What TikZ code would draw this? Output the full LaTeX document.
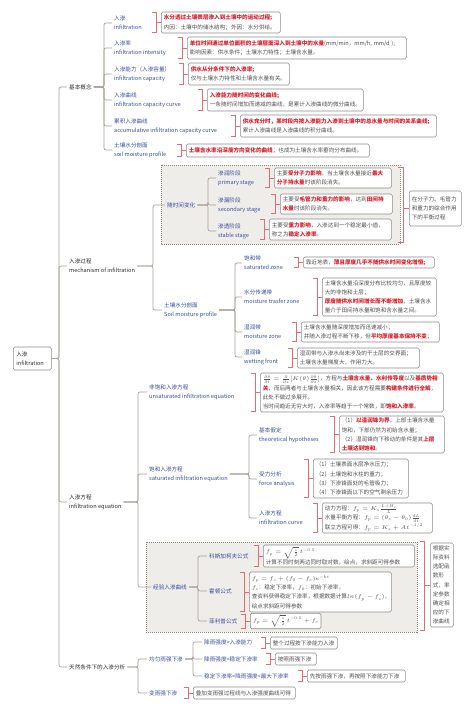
\RequirePackage{fix-cm}
\documentclass[tikz,border=0pt]{standalone}
\usepackage[no-math]{fontspec}
\setmainfont{Noto Sans CJK SC}
\DeclareMathSizes{5.6}{5.6}{4}{3.2}
\definecolor{lblue}{RGB}{58,78,158}
\definecolor{hred}{RGB}{214,32,44}
\definecolor{gtext}{RGB}{80,80,80}
\definecolor{dtext}{RGB}{45,45,45}
\definecolor{boxcol}{RGB}{140,140,140}
\definecolor{conncol}{RGB}{168,162,152}
\definecolor{brcol}{RGB}{226,108,118}
\definecolor{dcol}{RGB}{140,134,124}
\definecolor{dfill}{RGB}{239,237,233}
\newcommand\fs{\fontsize{5.6}{9.2}\selectfont}
\newcommand\hlr[1]{{\color{hred}\bfseries #1}}
\newcommand\mth[1]{\mbox{$#1$}}
\newcommand\bracketto[1]{\draw[brk] ([xshift=-9pt,yshift=-1pt]#1.north west) -- ([xshift=-5pt,yshift=-1pt]#1.north west) -- ([xshift=-5pt,yshift=1pt]#1.south west) -- ([xshift=-9pt,yshift=1pt]#1.south west) ([xshift=-5pt]#1.west) -- (#1.west);}
\tikzset{
  conn/.style={draw=conncol, line width=0.7pt, rounded corners=2pt},
  lbl/.style={anchor=west, align=left, inner xsep=2pt, inner ysep=1pt, font=\fs, text=lblue},
  lone/.style={anchor=west, align=left, inner xsep=2pt, inner ysep=1pt, font=\fs, text=dtext},
  bx/.style={anchor=west, draw=boxcol, fill=white, rounded corners=1.5pt, align=left, inner xsep=2.5pt, inner ysep=1.5pt, font=\fs, text=gtext, line width=0.6pt},
  brk/.style={draw=brcol, line width=0.7pt},
  dbox/.style={draw=dcol, fill=dfill, dash pattern=on 1pt off 1pt, line width=0.7pt},
  rootbox/.style={anchor=west, draw=boxcol, fill=white, rounded corners=1.5pt, align=left, inner xsep=3pt, font=\fs, text=dtext, line width=0.6pt}
}
\begin{document}
\begin{tikzpicture}[x=1pt,y=-1pt]
\useasboundingbox (0,0) rectangle (474,711);
\fill[white] (0,0) rectangle (474,711);

% dashed group boxes
\draw[dbox] (161,165) rectangle (400,244);
\draw[dbox] (146,542) rectangle (417,632);

% vertical line positions
\coordinate (vT) at (59,0);
\coordinate (v1) at (104,0);
\coordinate (v2) at (153,0);
\coordinate (v3) at (208,0);
\coordinate (v4) at (235,0);
\coordinate (v5) at (138,0);
\coordinate (v6) at (249,0);
\coordinate (v7) at (198,0);
\coordinate (v8) at (138,0);
\coordinate (v9) at (193,0);

% root
\node[rootbox, text width=32pt, minimum height=23pt] (root) at (13,358.5) {入渗\\infiltration};

% level 1
\node[lone] (jb) at (67,87) {基本概念};
\node[lone] (gc) at (67,266) {入渗过程\\mechanism of infiltration};
\node[lone] (fc) at (67,502) {入渗方程\\infiltration equation};
\node[lone] (tr) at (67,667) {天然条件下的入渗分析};

% basic concepts
\node[lbl] (a1) at (112,23) {入渗\\infiltration};
\node[lbl] (a2) at (112,48) {入渗率\\infiltration intensity};
\node[lbl] (a3) at (112,74) {入渗能力（入渗容量）\\infiltration capacity};
\node[lbl] (a4) at (112,100) {入渗曲线\\infiltration capacity curve};
\node[lbl] (a5) at (112,126) {累积入渗曲线\\accumulative infiltration capacity curve};
\node[lbl] (a6) at (112,150) {土壤水分剖面\\soil moisture profile};

\node[bx, text width=114pt, minimum height=21pt] (b1) at (161,22.5) {\hlr{水分透过土壤表层渗入到土壤中的运动过程;}\\内因：土壤中的储水结构；外因：水分供给。};
\node[bx, text width=214pt, minimum height=22pt] (b2) at (187,48) {\hlr{单位时间通过单位面积的土壤层面深入到土壤中的水量}(mm/min，mm/h, mm/d );\\影响因素：供水条件；土壤水力特性；土壤含水量。};
\node[bx, text width=96pt, minimum height=22pt] (b3) at (188,74) {\hlr{供水从分条件下的入渗率;}\\仅与土壤水力特性和土壤含水量有关。};
\node[bx, text width=151pt, minimum height=22pt] (b4) at (207,100) {\hlr{入渗能力随时间的变化曲线;}\\一条随时间增加而递减的曲线，是累计入渗曲线的微分曲线。};
\node[bx, text width=191pt, minimum height=22pt] (b5) at (240,126) {\hlr{供水充分时，某时段内按入渗能力入渗到土壤中的总水量与时间的关系曲线;}\\累计入渗曲线是入渗曲线的积分曲线。};
\node[bx, text width=178pt, minimum height=13pt] (b6) at (186,150.5) {\hlr{土壤含水率沿深度方向变化的曲线}；也成为土壤含水率垂向分布曲线。};

% infiltration process
\node[lbl] (sj) at (165,205) {随时间变化};
\node[lbl] (p1) at (216,178) {渗润阶段\\primary stage};
\node[lbl] (p2) at (216,205) {渗漏阶段\\secondary stage};
\node[lbl] (p3) at (216,231) {渗透阶段\\stable stage};
\node[bx, text width=112pt, minimum height=20pt] (pb1) at (274,178) {主要\hlr{受分子力影响}，当土壤含水量接近\hlr{最大}\\\hlr{分子持水量}时该阶段消失。};
\node[bx, text width=107pt, minimum height=20pt] (pb2) at (280,204) {主要受\hlr{毛管力和重力的影响}，达到\hlr{田间持}\\\hlr{水量}时该阶段消失。};
\node[bx, text width=117pt, minimum height=21pt] (pb3) at (269,229.5) {主要受\hlr{重力影响}，入渗达到一个稳定最小值，\\称之为\hlr{稳定入渗率}。};
\node[bx, text width=47pt, minimum height=35pt] (pr) at (409,208.5) {在分子力、毛管力\\和重力的综合作用\\下的平衡过程};

\node[lbl] (sm) at (162,310) {土壤水分剖面\\Soil moisture profile};
\node[lbl] (z1) at (242,263) {饱和带\\saturated zone};
\node[lbl] (z2) at (242,297) {水分传递带\\moisture trasfer zone};
\node[lbl] (z3) at (242,332) {湿润带\\moisture zone};
\node[lbl] (z4) at (242,357) {湿润锋\\wetting front};
\node[bx, text width=126pt, minimum height=11pt] (zb1) at (303,262.5) {靠近地表，\hlr{薄且厚度几乎不随供水时间变化增恒;}};
\node[bx, text width=109pt, minimum height=38pt] (zb2) at (322,297) {土壤含水量沿深度分布比较均匀，且厚度较\\大的非饱和土层；\\\hlr{厚度随供水时间增长而不断增加}，土壤含水\\量介于田间持水量和饱和含水量之间。};
\node[bx, text width=133pt, minimum height=20pt] (zb3) at (301,332) {土壤含水量随深度增加而迅速减小；\\并随入渗过程不断下移，但\hlr{平均厚度基本保持不变}；};
\node[bx, text width=117pt, minimum height=20pt] (zb4) at (297,358) {湿润带与入渗水尚未涉及的干土层的交界面；\\土壤含水量梯度大，作用力大。};

% infiltration equation
\node[lbl] (f1) at (147,392) {非饱和入渗方程\\unsaturated infiltration equation};
\node[lbl] (f2) at (147,474) {饱和入渗方程\\saturated infiltration equation};
\node[lbl] (f3) at (151,587) {经验入渗曲线};
\node[bx, text width=178pt, minimum height=39pt] (fb1) at (260,392.5) {\mth{\frac{\partial\theta}{\partial t}=\frac{\partial}{\partial z}[K(\theta)\frac{\partial\theta}{\partial z}]}，方程与\hlr{土壤含水量、水利传导度}以及\hlr{基质势相}\\\hlr{关}，而后两者与土壤含水量相关，因此该方程需要\hlr{构建条件进行全解}，\\此处不做过多展开。\\当时间趋近无穷大时，入渗率等趋于一个常数，即\hlr{饱和入渗率}。};

\node[lbl] (h1) at (257,435) {基本假定\\theoretical hypotheses};
\node[lbl] (h2) at (257,479) {受力分析\\force analysis};
\node[lbl] (h3) at (257,518) {入渗方程\\infiltration curve};
\node[bx, text width=100pt, minimum height=37pt] (hb1) at (339,434.5) {（1）\hlr{以湿润锋为界}，上部土壤含水量\\饱和，下部仍然为初始含水量；\\（2）湿润锋向下移动的条件是其\hlr{上层}\\\hlr{土壤达到饱和}。};
\node[bx, text width=90pt, minimum height=39pt] (hb2) at (313,478.5) {（1）土壤表面水层净水压力；\\（2）土壤饱和水柱的重力；\\（3）下渗锋面处的毛管吸力；\\（4）下渗锋面以下的空气剩余压力};
\node[bx, text width=105pt, minimum height=30pt] (hb3) at (322,518) {动力方程：\mth{f_p=K_s\frac{L+H_c}{L}}\\水量平衡方程：\mth{f_p=(\theta_s-\theta_0)\frac{dL}{dt}}\\联立方程可得：\mth{f_p=K_s+At^{-1/2}}};

\node[lbl] (e1) at (207,556) {科斯加柯夫公式};
\node[lbl] (e2) at (207,591) {霍顿公式};
\node[lbl] (e3) at (207,621) {菲利普公式};
\node[bx, text width=146pt, minimum height=22pt] (eb1) at (263,556) {\mth{f_p=\sqrt{\frac{s}{2}}\,t^{-0.5}}\\计算不同时刻两边同时取对数，绘点，求斜距可得参数};
\node[bx, text width=137pt, minimum height=40pt] (eb2) at (249,592) {\mth{f_p=f_c+(f_0-f_c)e^{-kt}}\\\mth{f_c}：稳定下渗率，\mth{f_0}：初始下渗率，\\查资料获得稳定下渗率，根据数据计算\mth{ln(f_p-f_c)}，\\绘点求斜距可得参数};
\node[bx, minimum height=12pt] (eb3) at (250,621) {\mth{f_p=\sqrt{\frac{s}{2}}\,t^{-0.5}+f_c}};
\node[bx, text width=18pt, minimum height=84pt] (er) at (430,585) {根据实\\际资料\\选配函\\数形\\式，率\\定参数\\确定相\\应的下\\渗曲线};

% natural conditions
\node[lbl] (n1) at (147,659) {均匀雨强下渗};
\node[lbl] (n2) at (147,693) {变雨强下渗};
\node[lbl] (n11) at (202,642) {降雨强度>入渗能力};
\node[lbl] (n12) at (202,659) {降雨强度<稳定下渗率};
\node[lbl] (n13) at (202,676) {稳定下渗率<降雨强度<最大下渗率};
\node[bx, text width=62pt, minimum height=12pt] (nb1) at (270,643) {整个过程按下渗能力入渗};
\node[bx, text width=36pt, minimum height=12pt] (nb2) at (275,659) {按照雨强下渗};
\node[bx, text width=93pt, minimum height=12pt] (nb3) at (307,676) {先按雨强下渗，再按照下渗能力下渗};
\node[bx, text width=97pt, minimum height=12pt] (nb4) at (193,693) {叠加变雨强过程线与入渗强度曲线可得};

% connectors: tree
\foreach \c in {jb,gc,fc,tr} \draw[conn] (root.east) -- (root.east -| vT) |- (\c.west);
\foreach \c in {a1,a2,a3,a4,a5,a6} \draw[conn] (jb.east) -- (jb.east -| v1) |- (\c.west);
\foreach \c in {sj,sm} \draw[conn] (gc.east) -- (gc.east -| v2) |- (\c.west);
\foreach \c in {p1,p2,p3} \draw[conn] (sj.east) -- (sj.east -| v3) |- (\c.west);
\foreach \c in {z1,z2,z3,z4} \draw[conn] (sm.east) -- (sm.east -| v4) |- (\c.west);
\foreach \c in {f1,f2,f3} \draw[conn] (fc.east) -- (fc.east -| v5) |- (\c.west);
\foreach \c in {h1,h2,h3} \draw[conn] (f2.east) -- (f2.east -| v6) |- (\c.west);
\foreach \c in {e1,e2,e3} \draw[conn] (f3.east) -- (f3.east -| v7) |- (\c.west);
\foreach \c in {n1,n2} \draw[conn] (tr.east) -- (tr.east -| v8) |- (\c.west);
\foreach \c in {n11,n12,n13} \draw[conn] (n1.east) -- (n1.east -| v9) |- (\c.west);

% brackets to callout boxes
\foreach \b in {b1,b2,b3,b4,b5,b6,pb1,pb2,pb3,zb1,zb2,zb3,zb4,fb1,hb1,hb2,hb3,eb1,eb2,eb3,nb1,nb2,nb3,nb4} {\bracketto{\b}}

% group brackets
\coordinate (g1t) at (398,167);
\coordinate (g1b) at (398,242);
\draw[brk] (g1t) -- ++(5,0) -- ([xshift=5pt]g1b) -- (g1b) ([xshift=-6pt]pr.west) -- (pr.west);
\coordinate (g2t) at (420,541);
\coordinate (g2b) at (420,630);
\draw[brk] (g2t) -- ++(4,0) -- ([xshift=4pt]g2b) -- (g2b) ([xshift=-6pt]er.west) -- (er.west);
\end{tikzpicture}
\end{document}
